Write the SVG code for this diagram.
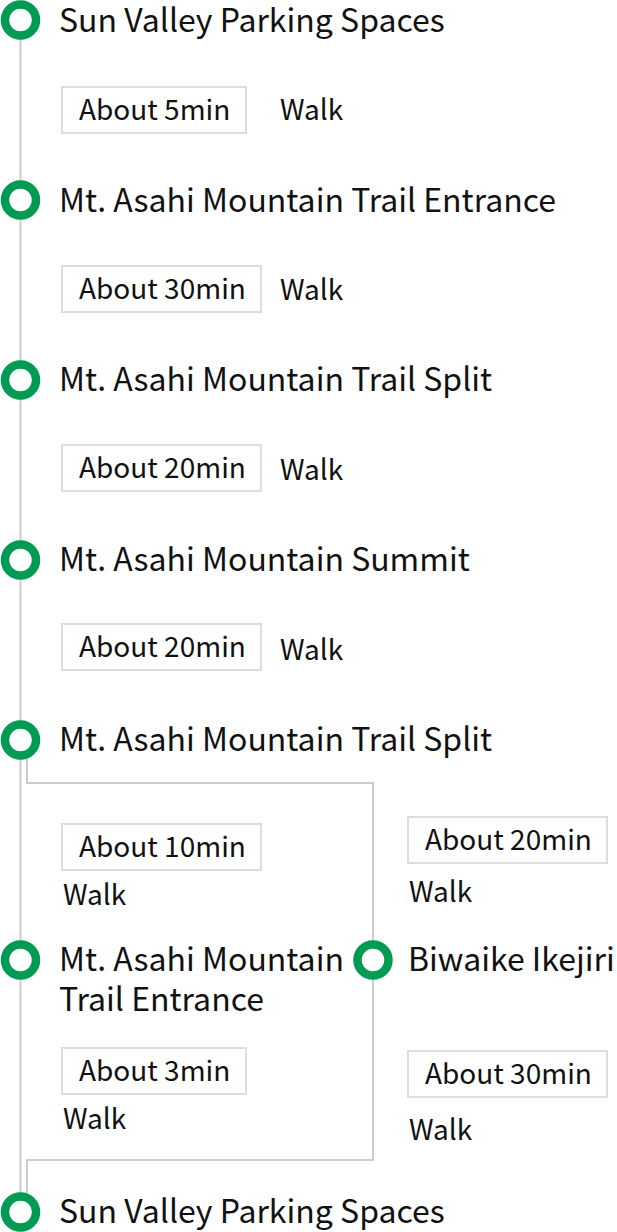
<svg xmlns="http://www.w3.org/2000/svg" width="617" height="1232" viewBox="0 0 617 1232">
<style>
.ln{fill:none;stroke:#cccccc;stroke-width:2}
.dot{fill:#ffffff;stroke:#009b53;stroke-width:8.5}
.t{font-family:"Noto Sans CJK JP","Noto Sans",sans-serif;font-size:32px;fill:#111}
.b{fill:#ffffff;stroke:#dddddd;stroke-width:2}
.s{font-family:"Noto Sans CJK JP","Noto Sans",sans-serif;font-size:28px;fill:#111}
</style>
<rect width="617" height="1232" fill="#ffffff"/>
<g id="connectors">
<path class="ln" d="M20.5 20 V1212"/>
<path class="ln" d="M27 758 V783 H373 V960 V1160 H27 V1212"/>
</g>
<g id="n1"><circle class="dot" cx="20.5" cy="20" r="15.5"/><text class="t" x="59" y="32">Sun Valley Parking Spaces</text></g>
<g id="e1"><rect class="b" x="62" y="87" width="184" height="46"/><text class="s" x="79" y="120">About 5min</text><text class="s" x="280" y="120">Walk</text></g>
<g id="n2"><circle class="dot" cx="20.5" cy="200" r="15.5"/><text class="t" x="59" y="212">Mt. Asahi Mountain Trail Entrance</text></g>
<g id="e2"><rect class="b" x="62" y="266" width="199" height="46"/><text class="s" x="79" y="299">About 30min</text><text class="s" x="280" y="300">Walk</text></g>
<g id="n3"><circle class="dot" cx="20.5" cy="380" r="15.5"/><text class="t" x="59" y="391">Mt. Asahi Mountain Trail Split</text></g>
<g id="e3"><rect class="b" x="62" y="445" width="199" height="46"/><text class="s" x="79" y="478">About 20min</text><text class="s" x="280" y="480">Walk</text></g>
<g id="n4"><circle class="dot" cx="20.5" cy="560" r="15.5"/><text class="t" x="59" y="571">Mt. Asahi Mountain Summit</text></g>
<g id="e4"><rect class="b" x="62" y="624" width="199" height="46"/><text class="s" x="79" y="657">About 20min</text><text class="s" x="280" y="660">Walk</text></g>
<g id="n5"><circle class="dot" cx="20.5" cy="740" r="15.5"/><text class="t" x="59" y="751">Mt. Asahi Mountain Trail Split</text></g>
<g id="e5"><rect class="b" x="62" y="824" width="199" height="46"/><text class="s" x="79" y="857">About 10min</text><text class="s" x="63" y="905">Walk</text></g>
<g id="e6"><rect class="b" x="408" y="817" width="199" height="46"/><text class="s" x="425" y="850">About 20min</text><text class="s" x="409" y="902">Walk</text></g>
<g id="n6"><circle class="dot" cx="20.5" cy="960" r="15.5"/><text class="t" x="59" y="971">Mt. Asahi Mountain</text><text class="t" x="59" y="1011">Trail Entrance</text></g>
<g id="n7"><circle class="dot" cx="373" cy="960" r="15.5"/><text class="t" x="408" y="971">Biwaike Ikejiri</text></g>
<g id="e7"><rect class="b" x="62" y="1048" width="184" height="46"/><text class="s" x="79" y="1081">About 3min</text><text class="s" x="63" y="1129">Walk</text></g>
<g id="e8"><rect class="b" x="408" y="1051" width="199" height="46"/><text class="s" x="425" y="1084">About 30min</text><text class="s" x="409" y="1140">Walk</text></g>
<g id="n8"><circle class="dot" cx="20.5" cy="1212" r="15.5"/><text class="t" x="59" y="1223">Sun Valley Parking Spaces</text></g>
</svg>
